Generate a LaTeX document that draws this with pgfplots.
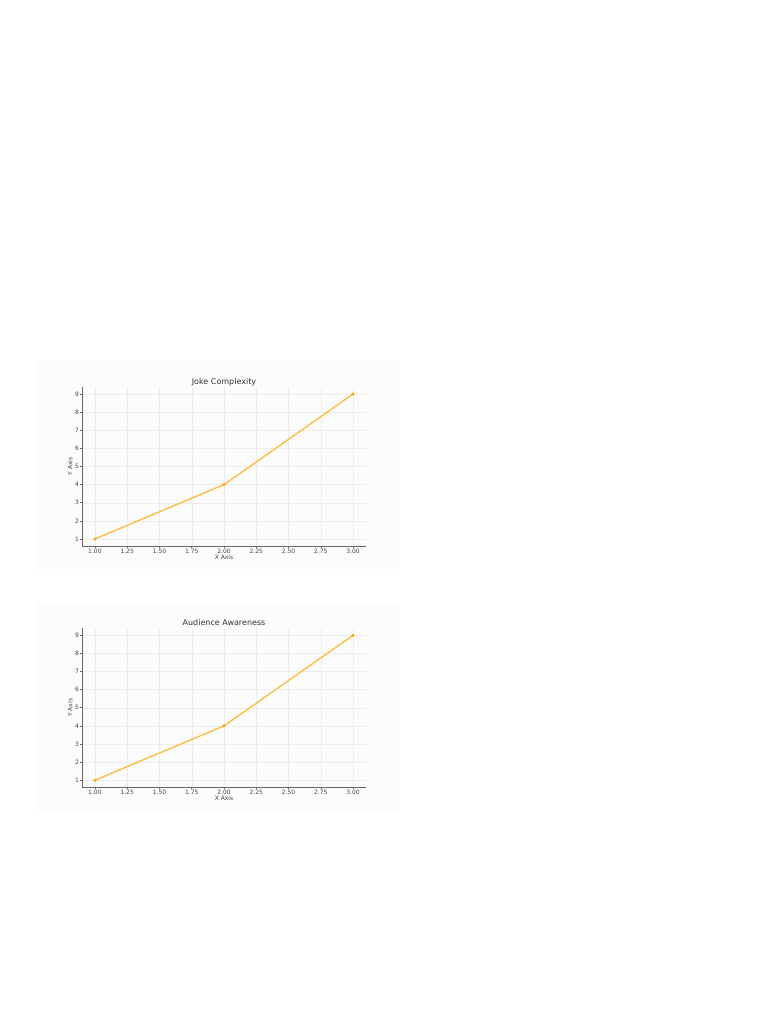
\documentclass[border=0pt]{standalone}
\usepackage{fontspec}
\setmainfont{DejaVu Sans}
\usepackage{pgfplots}
\pgfplotsset{compat=1.18}

\definecolor{spine}{HTML}{666666}
\definecolor{ticktext}{HTML}{444444}
\definecolor{gridc}{HTML}{ECECEC}
\definecolor{linec}{HTML}{FFBA3A}
\definecolor{markc}{HTML}{FFA500}
\definecolor{bgc}{HTML}{FCFCFC}

\pgfplotsset{
  panel/.style={
    scale only axis,
    width=284pt, height=159.5pt,
    xmin=0.9, xmax=3.1, ymin=0.6, ymax=9.4,
    axis lines=left,
    axis line style={-, draw=spine, line width=0.8pt},
    tick align=outside,
    major tick length=1.8pt,
    tick style={draw=spine, line width=0.6pt},
    grid=major,
    grid style={draw=gridc, line width=0.45pt},
    xtick={1,1.25,1.5,1.75,2,2.25,2.5,2.75,3},
    ytick={1,2,...,9},
    xticklabel style={/pgf/number format/.cd, fixed, fixed zerofill, precision=2},
    /pgf/number format/assume math mode=true,
    tick label style={font=\fontsize{6}{7}\selectfont, text=ticktext, inner sep=1pt},
    every axis title/.style={at={(axis description cs:0.5,1)}, anchor=base, yshift=2.5pt,
      font=\fontsize{8}{9.5}\selectfont, text=black!80},
    every axis x label/.style={at={(axis description cs:0.5,0)}, anchor=base, yshift=-13.5pt,
      font=\fontsize{6}{7}\selectfont, text=ticktext},
    every axis y label/.style={at={(axis description cs:-0.034,0.5)}, anchor=base, rotate=90,
      font=\fontsize{6}{7}\selectfont, text=ticktext},
    xlabel={X Axis}, ylabel={Y Axis},
  },
  series/.style={color=linec, line width=1.3pt, mark=*, mark size=1.4pt,
    mark options={draw=markc, fill=markc, line width=0.3pt}},
}

\begin{document}
\begin{tikzpicture}
\path[use as bounding box, fill=white] (0pt,0pt) rectangle (768pt,1024pt);
\fill[bgc] (35pt,455pt) rectangle (400pt,663pt);
\fill[bgc] (35pt,214pt) rectangle (400pt,422pt);

\begin{axis}[panel, at={(82pt,477.75pt)}, anchor=south west, title={Joke Complexity}]
\addplot[series] coordinates {(1,1) (2,4) (3,9)};
\end{axis}

\begin{axis}[panel, at={(82pt,236.5pt)}, anchor=south west, title={Audience Awareness}]
\addplot[series] coordinates {(1,1) (2,4) (3,9)};
\end{axis}
\end{tikzpicture}
\end{document}
